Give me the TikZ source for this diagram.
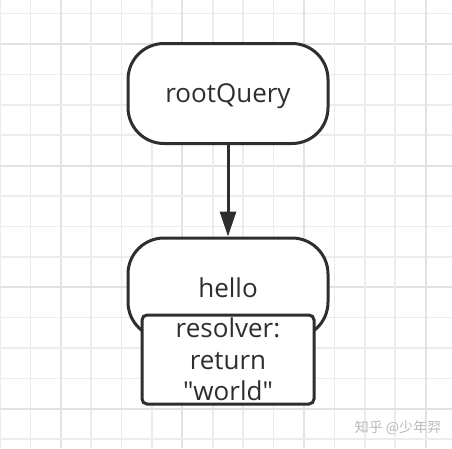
\documentclass[tikz,border=0pt]{standalone}
\usepackage{fontspec}
\setmainfont{Open Sans}[Ligatures=TeXOff]
\newfontfamily\cjk{Noto Sans CJK SC}
\usetikzlibrary{arrows.meta}
\definecolor{ink}{HTML}{2E2E2E}
\definecolor{gridminor}{HTML}{ECECEC}
\definecolor{gridmajor}{HTML}{E2E2E2}
\tikzset{
  term/.style={draw=ink, line width=3pt, fill=white, rounded corners=36pt,
    minimum width=200pt, minimum height=100pt, inner sep=0pt, text=ink,
    text depth=0pt, font=\fontsize{26}{31.5}\selectfont},
  note/.style={draw=ink, line width=3pt, fill=white, rounded corners=5pt,
    minimum width=172pt, minimum height=89pt, inner sep=0pt, text=ink,
    align=center, font=\fontsize{26}{31.5}\selectfont},
  link/.style={draw=ink, line width=3pt, -{Triangle[length=25pt,width=16pt]}},
}
\begin{document}
\begin{tikzpicture}[x=1pt,y=-1pt]
\fill[white] (0,0) rectangle (452,448);
\useasboundingbox (0,0) rectangle (452,448);
\foreach \k in {0,...,14}{
  \pgfmathtruncatemacro{\m}{mod(\k,4)}
  \ifnum\m=2
    \draw[gridmajor, line width=2pt] (30.4*\k,0) -- (30.4*\k,448);
  \else
    \draw[gridminor, line width=1.5pt] (30.4*\k,0) -- (30.4*\k,448);
  \fi
  \ifnum\m=1
    \draw[gridmajor, line width=2pt] (0,13.6+30.4*\k) -- (452,13.6+30.4*\k);
  \else
    \draw[gridminor, line width=1.5pt] (0,13.6+30.4*\k) -- (452,13.6+30.4*\k);
  \fi
}
\node[term] (root) at (228,93.5) {rootQuery};
\node[term] (hello) at (228,288) {hello};
\node[note] (res) at (228,359.5) {resolver:\\return\\"world"};
\draw[link] (root.south) -- (hello.north);
\node[text=gray!55, font=\cjk\fontsize{14}{14}\selectfont, anchor=center] (wm) at (398,428) {知乎 @少年羿};
\end{tikzpicture}
\end{document}
